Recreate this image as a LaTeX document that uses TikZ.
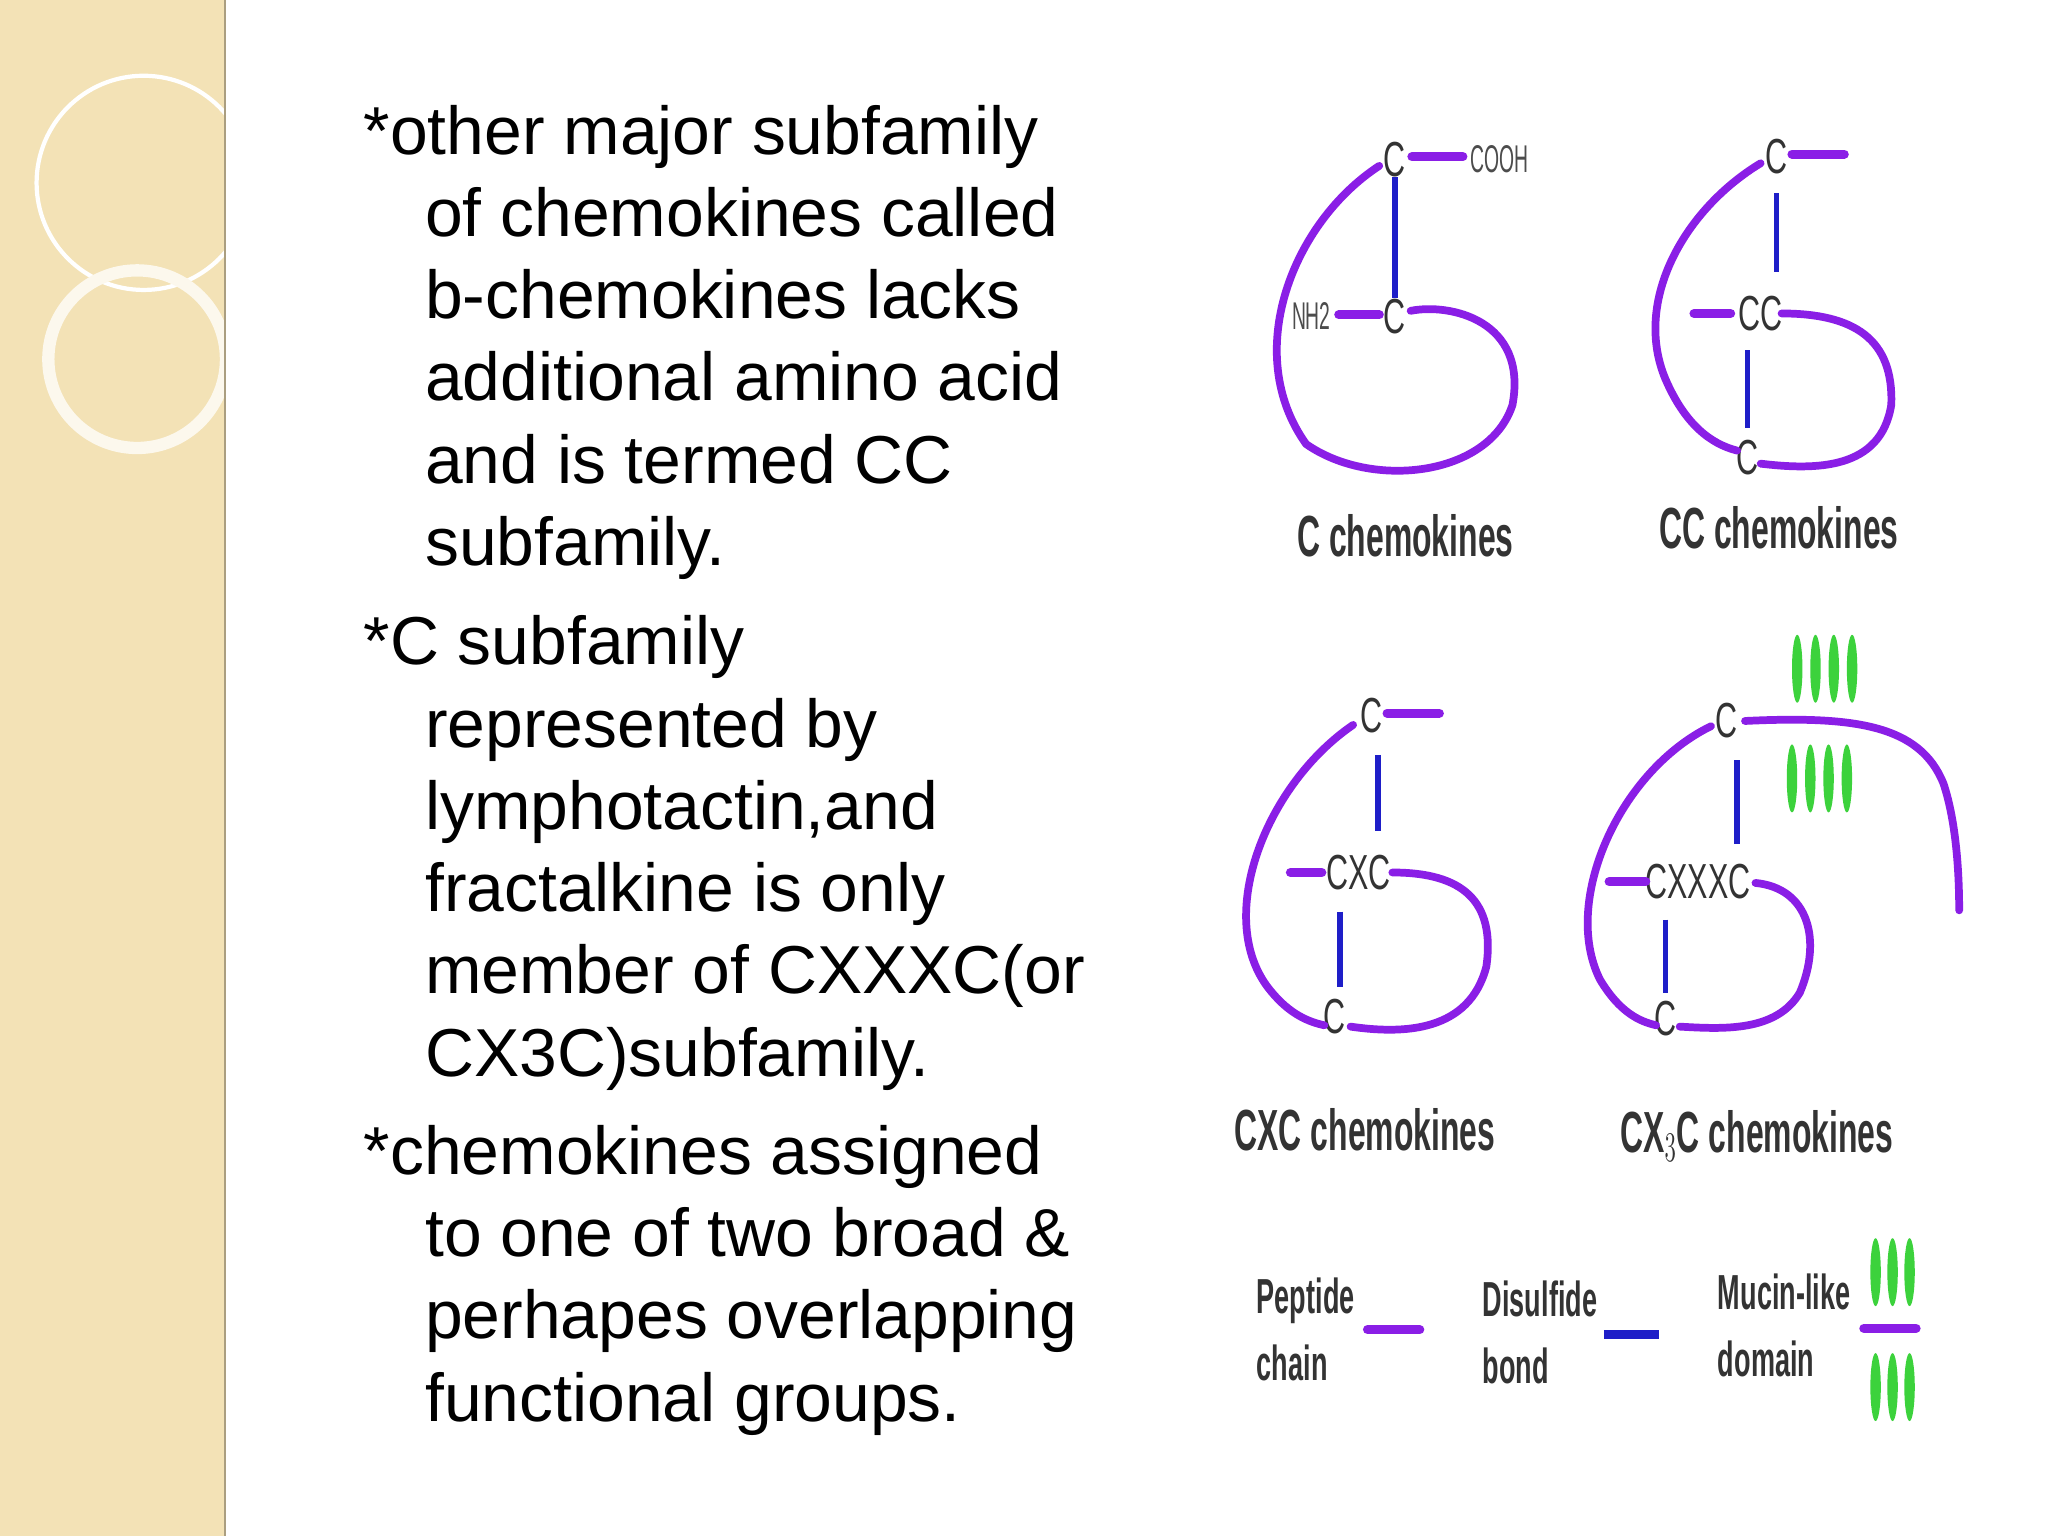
\documentclass[tikz,border=0pt]{standalone}
\usepackage{fontspec}
\setmainfont{Liberation Sans}
\definecolor{beige}{HTML}{F3E2B6}
\definecolor{pur}{HTML}{8A1EE6}
\definecolor{blu}{HTML}{1E1EC8}
\definecolor{grn}{HTML}{3CD23C}
\begin{document}
\begin{tikzpicture}[x=0.013061cm,y=-0.013061cm,
  body/.style={anchor=base west,inner sep=0,font=\fontsize{19.3}{23}\selectfont},
  lab/.style={inner sep=0,xscale=0.55,font=\fontsize{16.5}{20}\selectfont\bfseries,text=black!80},
  leg/.style={inner sep=0,xscale=0.55,align=left,anchor=west,font=\fontsize{14}{19}\selectfont\bfseries,text=black!80},
  cc/.style={inner sep=0,xscale=0.62,font=\fontsize{14}{16}\selectfont,text=black!80},
  tiny/.style={inner sep=0,xscale=0.5,font=\fontsize{11}{12}\selectfont,text=black!70},
  pep/.style={pur,line width=2.6pt,line cap=round},
  loop/.style={pur,line width=2.2pt,line cap=round},
  ss/.style={blu,line width=1.6pt}]
\useasboundingbox (0,0) rectangle (1568,1176);
\fill[white] (0,0) rectangle (1568,1176);
\fill[beige] (0,0) rectangle (172,1176);
\begin{scope}
\clip (0,0) rectangle (172,1176);
\draw[white,line width=1.2pt] (110,140) circle (82);
\draw[white!75!beige,line width=3.5pt] (105,275) circle (68);
\end{scope}
\draw[beige!70!black,line width=0.6pt] (172,0) -- (172,1176);
% text
\node[body] (t1) at (278,118) {*other major subfamily};
\node[body] (t2) at (325,181) {of chemokines called};
\node[body] (t3) at (325,244) {b-chemokines lacks};
\node[body] (t4) at (325,307) {additional amino acid};
\node[body] (t5) at (325,370) {and is termed CC};
\node[body] (t6) at (325,433) {subfamily.};
\node[body] (t7) at (278,509) {*C subfamily};
\node[body] (t8) at (325,572) {represented by};
\node[body] (t9) at (325,635) {lymphotactin,and};
\node[body] (t10) at (325,698) {fractalkine is only};
\node[body] (t11) at (325,761) {member of CXXXC(or};
\node[body] (t12) at (325,824) {CX3C)subfamily.};
\node[body] (t13) at (278,899) {*chemokines assigned};
\node[body] (t14) at (325,962) {to one of two broad \&};
\node[body] (t15) at (325,1025) {perhapes overlapping};
\node[body] (t16) at (325,1088) {functional groups.};
% C chemokines
\node[cc] (c1a) at (1068,122) {C};
\node[cc] (c1b) at (1068,242) {C};
\node[tiny] (nh2) at (1004,242) {NH2};
\node[tiny] (cooh) at (1148,122) {COOH};
\draw[pep] (1081,120) -- (1120,120);
\draw[pep] (1025,241) -- (1056,241);
\draw[ss] (c1a.south) -- (c1b.north);
\draw[loop] (1056,127) .. controls (990,170) and (950,270) .. (1000,340) .. controls (1050,375) and (1140,365) .. (1158,310) .. controls (1170,245) and (1110,232) .. (1080,238);
\node[lab] (l1) at (1076,410) {C chemokines};
% CC
\node[cc] (c2a) at (1360,120) {C};
\node[cc] (c2b) at (1348,240) {CC};
\node[cc] (c2c) at (1338,350) {C};
\draw[pep] (1372,118) -- (1412,118);
\draw[pep] (1297,240) -- (1325,240);
\draw[ss] (1360,148) -- (1360,208);
\draw[ss] (1338,268) -- (1338,328);
\draw[loop] (1348,125) .. controls (1290,160) and (1250,230) .. (1275,290) .. controls (1290,325) and (1310,340) .. (1330,345);
\draw[loop] (1364,240) .. controls (1420,240) and (1450,260) .. (1448,310) .. controls (1440,360) and (1390,360) .. (1348,355);
\node[lab] (l2) at (1362,404) {CC chemokines};
% CXC
\node[cc] (c3a) at (1050,548) {C};
\node[cc] (c3b) at (1040,668) {CXC};
\node[cc] (c3c) at (1022,778) {C};
\draw[pep] (1062,546) -- (1102,546);
\draw[pep] (988,668) -- (1012,668);
\draw[ss] (1055,578) -- (1055,636);
\draw[ss] (1026,698) -- (1026,756);
\draw[loop] (1036,555) .. controls (970,600) and (930,700) .. (970,755) .. controls (985,775) and (1000,782) .. (1014,785);
\draw[loop] (1066,668) .. controls (1120,668) and (1145,690) .. (1138,740) .. controls (1125,790) and (1075,792) .. (1034,786);
\node[lab] (l3) at (1045,865) {CXC chemokines};
% CX3C
\node[cc] (c4a) at (1322,552) {C};
\node[cc] (c4b) at (1300,675) {CXXXC};
\node[cc] (c4c) at (1275,780) {C};
\draw[pep] (1232,675) -- (1260,675);
\draw[ss] (1330,582) -- (1330,646);
\draw[ss] (1275,704) -- (1275,760);
\draw[loop] (1310,556) .. controls (1240,590) and (1195,690) .. (1225,750) .. controls (1240,775) and (1255,782) .. (1268,785);
\draw[loop] (1336,552) .. controls (1420,548) and (1470,555) .. (1488,600) .. controls (1498,630) and (1500,670) .. (1500,697);
\draw[loop] (1344,676) .. controls (1385,680) and (1395,720) .. (1378,760) .. controls (1360,790) and (1320,788) .. (1286,786);
\foreach \xx in {1376,1390,1404,1418}{
  \fill[grn] (\xx,512) ellipse (4 and 26);
  \fill[grn] (\xx-4,596) ellipse (4 and 26);}
\node[lab] (l4) at (1345,870) {CX$_3$C chemokines};
% legend
\node[leg] (lp) at (962,1018) {Peptide\\chain};
\draw[pep] (1047,1018) -- (1087,1018);
\node[leg] (ld) at (1135,1020) {Disulfide\\bond};
\draw[blu,line width=2.6pt] (1228,1022) -- (1270,1022);
\node[leg] (lm) at (1315,1015) {Mucin-like\\domain};
\foreach \xx in {1436,1449,1462}{
  \fill[grn] (\xx,974) ellipse (4 and 26);
  \fill[grn] (\xx,1062) ellipse (4 and 26);}
\draw[pep] (1427,1017) -- (1467,1017);
\end{tikzpicture}
\end{document}
